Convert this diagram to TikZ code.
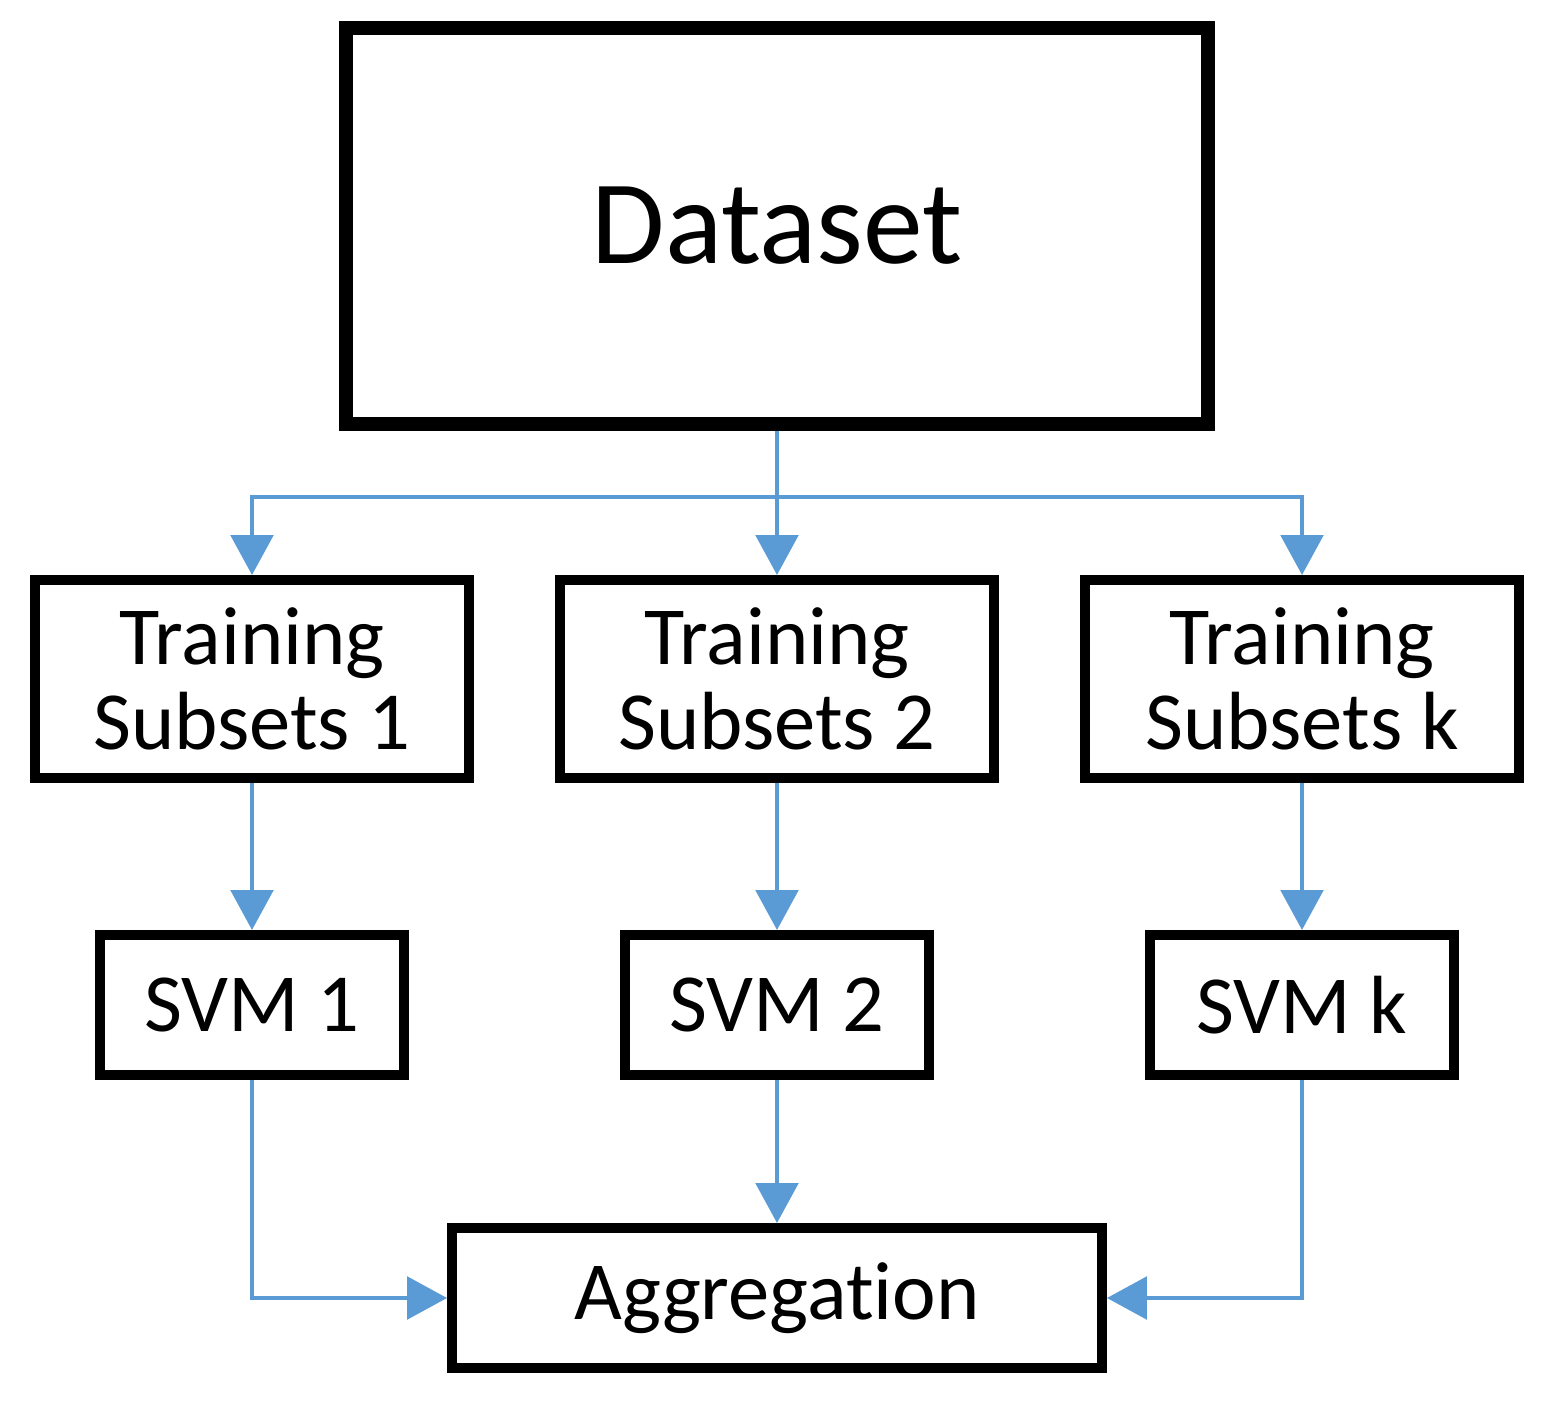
\documentclass[tikz,border=0pt]{standalone}
\usepackage{fontspec}
\setmainfont[Ligatures=NoCommon]{Carlito}
\usetikzlibrary{arrows.meta}
\definecolor{arr}{RGB}{91,155,213}
\begin{document}
\begin{tikzpicture}[x=0.02cm,y=-0.02cm,
  bx/.style={draw=black,line width=0.2cm,fill=white,inner sep=0pt,align=center},
  ar/.style={draw=arr,line width=0.08cm,-{Triangle[length=0.8cm,width=0.85cm]}},
  ln/.style={draw=arr,line width=0.08cm}]
\useasboundingbox (0,0) rectangle (1552,1405);
\node[bx,line width=0.28cm,minimum width=17.26cm,minimum height=7.94cm,font=\fontsize{68}{70}\selectfont] (ds) at (777,226) {Dataset};
\foreach \n/\x/\t in {t1/252/1,t2/777/2,tk/1302/k}{
  \node[bx,minimum width=8.7cm,minimum height=3.96cm,font=\fontsize{47}{48}\selectfont] (\n) at (\x,679) {Training\\Subsets \t};
}
\foreach \n/\x/\t in {s1/252/1,s2/777/2,sk/1302/k}{
  \node[bx,minimum width=6.1cm,minimum height=2.8cm,font=\fontsize{47}{48}\selectfont] (\n) at (\x,1005) {SVM \t};
}
\node[bx,minimum width=13cm,minimum height=2.8cm,font=\fontsize{47}{48}\selectfont] (ag) at (777,1298) {Aggregation};
\coordinate (b) at (777,497);
\draw[ln] (ds.south) -- (b);
\draw[ar] (b) -- (t2.north);
\draw[ar] (b) -| (t1.north);
\draw[ar] (b) -| (tk.north);
\draw[ar] (t1) -- (s1);
\draw[ar] (t2) -- (s2);
\draw[ar] (tk) -- (sk);
\draw[ar] (s2) -- (ag);
\draw[ar] (s1.south) |- (ag.west);
\draw[ar] (sk.south) |- (ag.east);
\end{tikzpicture}
\end{document}
